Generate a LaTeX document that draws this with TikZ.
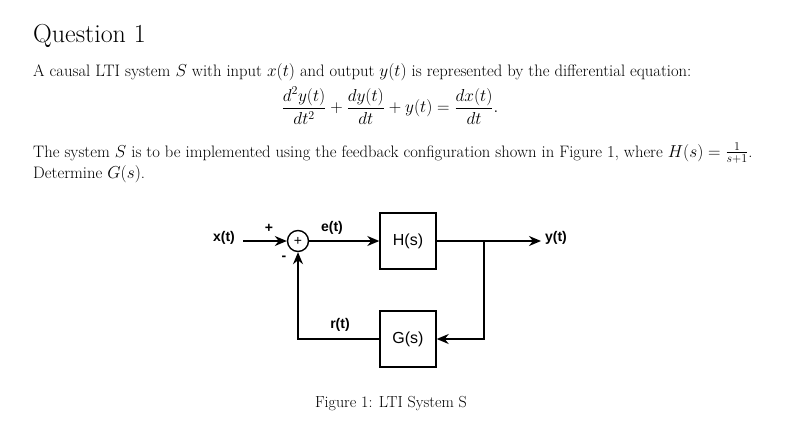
\documentclass[tikz,border=0pt]{standalone}
\usepackage{amsmath}
\usepackage{fontspec}
\newfontfamily\diag{Liberation Sans}
\usetikzlibrary{arrows.meta}
\tikzset{
  blk/.style={draw, line width=1.4pt, minimum width=56pt, minimum height=56pt, font=\diag\fontsize{16}{18}\selectfont},
  sig/.style={font=\diag\bfseries\fontsize{14}{16}\selectfont},
  wire/.style={line width=1.4pt},
  arr/.style={wire, -{Stealth[length=12pt,width=10pt]}},
  txt/.style={anchor=base west, font=\fontsize{16.6}{19}\selectfont, inner sep=0pt}
}
\begin{document}
\begin{tikzpicture}[x=1pt,y=-1pt]
\useasboundingbox (0,0) rectangle (793,434);
% text
\node[anchor=base west, inner sep=0pt, font=\fontsize{26}{30}\selectfont] (q) at (33,42) {Question 1};
\node[txt] (l1) at (33,76) {A causal LTI system $S$ with input $x(t)$ and output $y(t)$ is represented by the differential equation:};
\node[font=\fontsize{17.5}{20}\selectfont, inner sep=0pt] (eq) at (390,106) {$\dfrac{d^2y(t)}{dt^2}+\dfrac{dy(t)}{dt}+y(t)=\dfrac{dx(t)}{dt}.$};
\node[txt] (l2) at (33,157) {The system $S$ is to be implemented using the feedback configuration shown in Figure 1, where $H(s)=\frac{1}{s+1}$.};
\node[txt] (l3) at (33,178) {Determine $G(s)$.};
% diagram
\node[draw, circle, line width=1.4pt, minimum size=21pt, inner sep=0pt, font=\diag\fontsize{14}{16}\selectfont] (sum) at (298,241) {+};
\node[blk] (H) at (408,241) {H(s)};
\node[blk] (G) at (408,339) {G(s)};
\node[sig] (x) at (224,238) {x(t)};
\node[sig] (y) at (556,238) {y(t)};
\node[sig] (plus) at (269,228) {+};
\node[sig] (minus) at (284,258) {-};
\node[sig] (e) at (332,228) {e(t)};
\node[sig] (r) at (340,325) {r(t)};
\coordinate (xs) at (243,241);
\coordinate (ye) at (541,241);
\coordinate (br) at (484,241);
\coordinate (bl) at (298,339);
\draw[arr] (xs) -- (sum);
\draw[arr] (sum) -- (H);
\draw[arr] (H) -- (ye);
\draw[arr] (br) |- (G);
\draw[arr] (G) -- (bl) -- (sum);
\node[font=\fontsize{16}{18}\selectfont] (cap) at (391,404) {Figure 1: LTI System S};
\end{tikzpicture}
\end{document}
